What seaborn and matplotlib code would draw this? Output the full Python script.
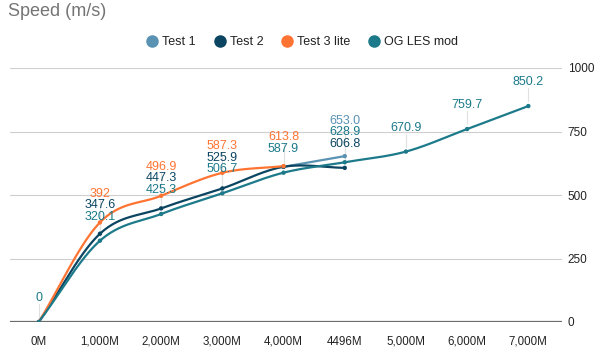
import numpy as np
import pandas as pd
import seaborn as sns
import matplotlib
matplotlib.use("Agg")
import matplotlib.pyplot as plt
from matplotlib.lines import Line2D

categories = ["0M", "1,000M", "2,000M", "3,000M", "4,000M", "4496M", "5,000M", "6,000M", "7,000M"]
test1 = [np.nan, np.nan, np.nan, np.nan, 611.0, 653.0, np.nan, np.nan, np.nan]
test2 = [0, 347.6, 447.3, 525.9, 611.0, 606.8, np.nan, np.nan, np.nan]
test3 = [0, 392, 496.9, 587.3, 613.8, np.nan, np.nan, np.nan, np.nan]
og_les = [0, 320.1, 425.3, 506.7, 587.9, 628.9, 670.9, 759.7, 850.2]
y_ticks = [0, 250, 500, 750, 1000]

series_names = ["Test 1", "Test 2", "Test 3 lite", "OG LES mod"]
series_vals = [test1, test2, test3, og_les]
colors = ["#5a92b3", "#0b4561", "#ff7433", "#1c7a8a"]
# which labels are visible (others hidden by overlap in reference)
show_labels = [
    [False, False, False, False, False, True, False, False, False],
    [False, True, True, True, False, True, False, False, False],
    [False, True, True, True, True, False, False, False, False],
    [True, True, True, True, True, True, True, True, True],
]

sns.set_theme(style="white")
plt.rcParams["font.family"] = ["Liberation Sans", "DejaVu Sans"]

fig = plt.figure(figsize=(5.98, 3.52), dpi=100)
ax = fig.add_axes([10 / 598, 1 - 322 / 352, 552 / 598, 254 / 352])

rows = []
for name, vals in zip(series_names, series_vals):
    for i, v in enumerate(vals):
        rows.append({"series": name, "idx": i, "value": v})
df = pd.DataFrame(rows).dropna()


def catmull(xs, ys, n=30):
    xs = np.asarray(xs, float)
    ys = np.asarray(ys, float)
    if len(xs) < 3:
        return xs, ys
    px = np.concatenate([[2 * xs[0] - xs[1]], xs, [2 * xs[-1] - xs[-2]]])
    py = np.concatenate([[2 * ys[0] - ys[1]], ys, [2 * ys[-1] - ys[-2]]])
    outx, outy = [], []
    t = np.linspace(0, 1, n)
    tension = 0.5
    for k in range(1, len(px) - 2):
        p0, p1, p2, p3 = py[k - 1], py[k], py[k + 1], py[k + 2]
        q0, q1, q2, q3 = px[k - 1], px[k], px[k + 1], px[k + 2]
        h00 = 2 * t**3 - 3 * t**2 + 1
        h10 = t**3 - 2 * t**2 + t
        h01 = -2 * t**3 + 3 * t**2
        h11 = t**3 - t**2
        outy.append(h00 * p1 + h10 * tension * (p2 - p0) + h01 * p2 + h11 * tension * (p3 - p1))
        outx.append(h00 * q1 + h10 * tension * (q2 - q0) + h01 * q2 + h11 * tension * (q3 - q1))
    return np.concatenate(outx), np.concatenate(outy)


for name, col in zip(series_names, colors):
    sub = df[df.series == name]
    sx, sy = catmull(sub.idx.values, sub.value.values)
    ax.plot(sx, sy, color=col, lw=1.6, solid_capstyle="round", zorder=3)

sns.scatterplot(data=df, x="idx", y="value", hue="series", palette=dict(zip(series_names, colors)),
                s=10, linewidth=0, legend=False, ax=ax, zorder=4)

ax.set_xlim(-0.47, 8.55)
ax.set_ylim(0, 1000)

# data labels: offset above the point, pushed apart when stacked
px_per_unit = 254 / 1000
base_off = 24  # px
min_gap = 11.5  # px
for i in range(len(categories)):
    items = []
    for name, vals, col, show in zip(series_names, series_vals, colors, show_labels):
        v = vals[i]
        if isinstance(v, float) and np.isnan(v):
            continue
        if not show[i]:
            continue
        txt = str(v) if isinstance(v, int) else f"{v:.1f}"
        items.append([v * px_per_unit + base_off, v, txt, col])
    items.sort(key=lambda r: r[0])
    for k in range(1, len(items)):
        if items[k][0] - items[k - 1][0] < min_gap:
            items[k][0] = items[k - 1][0] + min_gap
    for ypx, v, txt, col in items:
        yl = ypx / px_per_unit
        ax.plot([i, i], [v + 5 / px_per_unit, yl - 6 / px_per_unit], color="#e0e0e0", lw=0.8, zorder=1)
        ax.text(i, yl, txt, ha="center", va="center", fontsize=9, color=col, zorder=5)

ax.set_xticks(range(len(categories)))
ax.set_xticklabels(categories, fontsize=8.3, color="#222222")
ax.set_yticks(y_ticks)
ax.set_yticklabels([str(t) for t in y_ticks], fontsize=8.5, color="#222222")
ax.yaxis.tick_right()
ax.tick_params(axis="both", length=0)
ax.tick_params(axis="x", pad=10)
ax.tick_params(axis="y", pad=4)
ax.set_xlabel("")
ax.set_ylabel("")
for sp in ax.spines.values():
    sp.set_visible(False)
ax.grid(axis="y", color="#cfcfcf", lw=0.8)
ax.grid(axis="x", visible=False)
ax.axhline(0, color="#6b6b6b", lw=1.6, zorder=2)

fig.text(8 / 598, 1 - 12 / 352, "Speed (m/s)", fontsize=13, color="#757575", va="center", ha="left")

handles = [Line2D([0], [0], marker="o", color="none", markerfacecolor=c, markeredgecolor=c,
                  markersize=8) for c in colors]
fig.legend(handles, series_names, loc="center", bbox_to_anchor=(0.505, 1 - 42 / 352), ncol=4,
           frameon=False, fontsize=9, handletextpad=0.3, columnspacing=1.4, handlelength=1.0,
           labelcolor="#222222")

fig.savefig("out.png", dpi=100)
